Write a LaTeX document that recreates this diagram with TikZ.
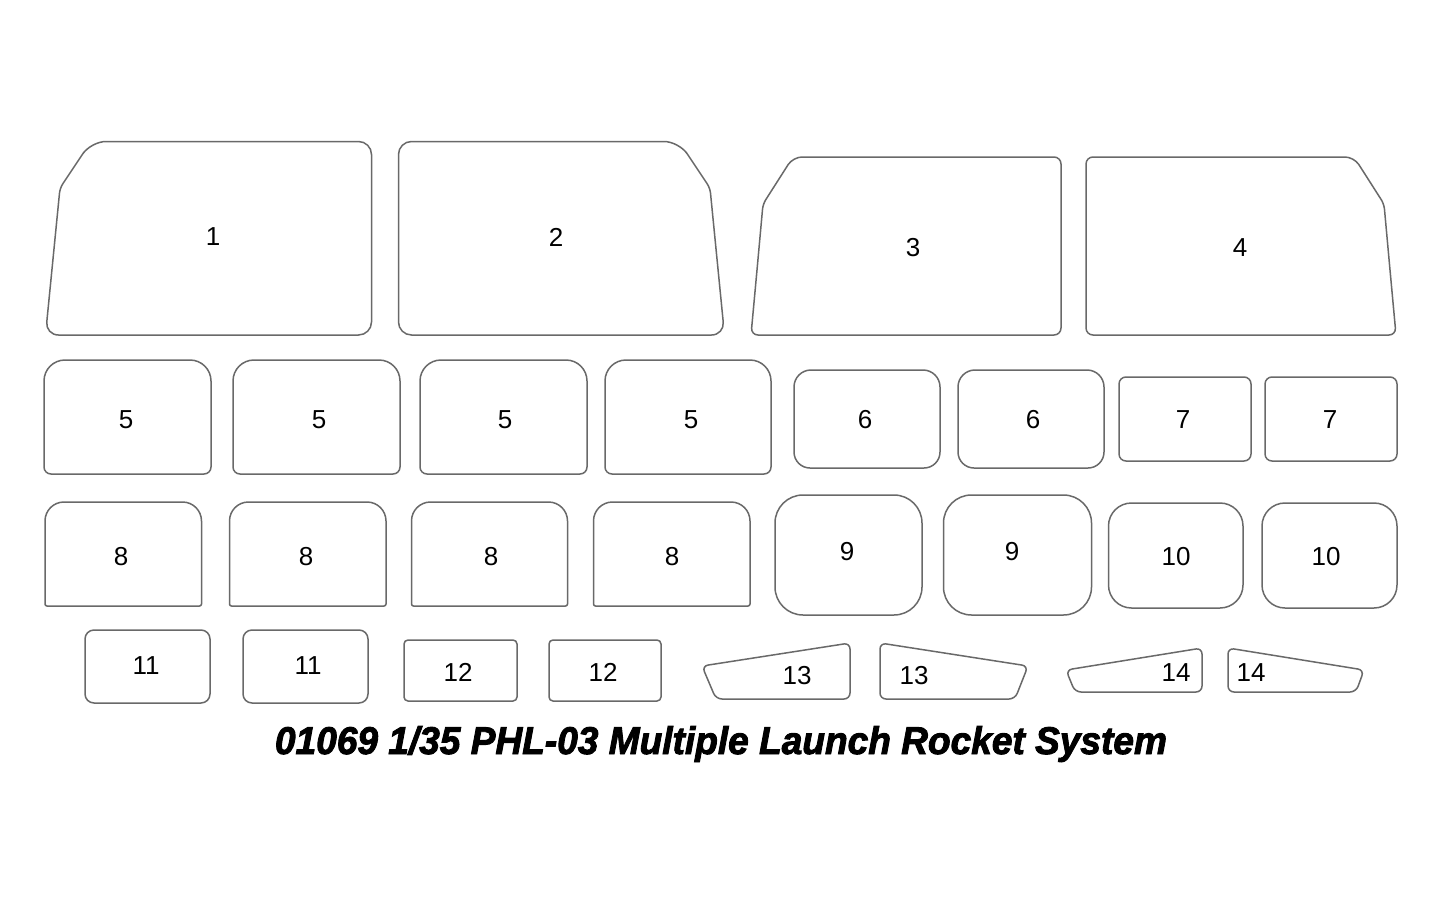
\documentclass[tikz,border=0pt]{standalone}
\usepackage{fontspec}
\usepackage{graphicx}
\setmainfont{Liberation Sans}
\newfontfamily\titlefont{Liberation Sans}[BoldItalicFeatures={FakeBold=2.4}]
\definecolor{partgray}{RGB}{105,105,105}
\tikzset{
  partline/.style={draw=partgray, line width=1.5pt, line join=round},
  lbl/.style={inner sep=0pt, font=\fontsize{26}{28}\selectfont, text=black}
}
\newcommand\pbox[6]{%
  \draw[partline] ({#1},{(#2+#4)/2}) [rounded corners=#5pt] -- (#1,#2) -- (#3,#2) -- ({#3},{(#2+#4)/2}) [rounded corners=#6pt] -- (#3,#4) -- (#1,#4) -- cycle;}
\begin{document}
\begin{tikzpicture}[x=1pt,y=-1pt]
\fill[white] (0,0) rectangle (1440,900);
\useasboundingbox (0,0) rectangle (1440,900);

% Row 1
\draw[partline] (230,141.5) [rounded corners=15pt] -- (91,141.5) -- (75.5,164.75) [rounded corners=5pt] -- (60,188) -- (52.75,261.5) [rounded corners=13pt] -- (45.5,335) -- (371.5,335) -- (371.5,141.5) -- cycle;
\draw[partline] (540,141.5) [rounded corners=15pt] -- (679,141.5) -- (694.5,164.75) [rounded corners=5pt] -- (710,188) -- (717.25,261.5) [rounded corners=13pt] -- (724.5,335) -- (398.5,335) -- (398.5,141.5) -- cycle;
\draw[partline] (906,157) [rounded corners=9pt] -- (793,157) -- (778,180.5) [rounded corners=5pt] -- (763,204) -- (757,270) [rounded corners=7pt] -- (751,335) -- (1061,335) -- (1061,157) -- cycle;
\draw[partline] (1241,157) [rounded corners=9pt] -- (1354,157) -- (1369,180.5) [rounded corners=5pt] -- (1384,204) -- (1390,270) [rounded corners=7pt] -- (1396,335) -- (1086,335) -- (1086,157) -- cycle;
\node[lbl] (n1) at (213,237) {1};
\node[lbl] (n2) at (556,237) {2};
\node[lbl] (n3) at (913,248) {3};
\node[lbl] (n4) at (1240,248) {4};

% Row 2
\pbox{44}{360}{211}{474}{21}{7}
\pbox{233}{360}{400}{474}{21}{7}
\pbox{420}{360}{587}{474}{21}{7}
\pbox{605}{360}{771}{474}{21}{7}
\pbox{794}{370}{940}{468}{17}{16}
\pbox{958}{370}{1104}{468}{17}{16}
\pbox{1119}{377}{1251}{461}{7}{7}
\pbox{1265}{377}{1397}{461}{7}{7}
\node[lbl] (n5a) at (126,420) {5};
\node[lbl] (n5b) at (319,420) {5};
\node[lbl] (n5c) at (505,420) {5};
\node[lbl] (n5d) at (691,420) {5};
\node[lbl] (n6a) at (865,420) {6};
\node[lbl] (n6b) at (1033,420) {6};
\node[lbl] (n7a) at (1183,420) {7};
\node[lbl] (n7b) at (1330,420) {7};

% Row 3
\pbox{45}{502}{201.5}{606}{19}{2}
\pbox{229.5}{502}{386}{606}{19}{2}
\pbox{411.5}{502}{567.5}{606}{19}{2}
\pbox{593.5}{502}{750}{606}{19}{2}
\pbox{775}{495}{922}{615}{28}{28}
\pbox{943.5}{495}{1091.5}{615}{28}{28}
\pbox{1108.5}{503}{1243}{608}{23}{23}
\pbox{1262}{503}{1397}{608}{23}{23}
\node[lbl] (n8a) at (121,557) {8};
\node[lbl] (n8b) at (306,557) {8};
\node[lbl] (n8c) at (491,557) {8};
\node[lbl] (n8d) at (672,557) {8};
\node[lbl] (n9a) at (847,552) {9};
\node[lbl] (n9b) at (1012,552) {9};
\node[lbl] (n10a) at (1176,557) {10};
\node[lbl] (n10b) at (1326,557) {10};

% Row 4
\pbox{85}{630}{210}{703}{9}{9}
\pbox{243}{630}{368}{703}{9}{9}
\pbox{404}{640}{517}{701}{4}{4}
\pbox{549}{640}{661}{701}{4}{4}
\draw[partline, rounded corners=6pt] (783,699) -- (716,699) -- (702,666) -- (850,643) -- (850,699) -- cycle;
\draw[partline, rounded corners=6pt] (950,699) -- (880,699) -- (880,643) -- (1028,666) -- (1015,699) -- cycle;
\draw[partline, rounded corners=6pt] (1140,692) -- (1075,692) -- (1066,670) -- (1202,648) -- (1202,692) -- cycle;
\draw[partline, rounded corners=6pt] (1290,692) -- (1228,692) -- (1228,648) -- (1364,670) -- (1356,692) -- cycle;
\node[lbl] (n11a) at (146,666) {11};
\node[lbl] (n11b) at (308,666) {11};
\node[lbl] (n12a) at (458,672) {12};
\node[lbl] (n12b) at (603,672) {12};
\node[lbl] (n13a) at (797,676) {13};
\node[lbl] (n13b) at (914,676) {13};
\node[lbl] (n14a) at (1176,673) {14};
\node[lbl] (n14b) at (1251,673) {14};

% Title
\node[inner sep=0pt, anchor=base] (title) at (721,754)
  {\resizebox{892pt}{28pt}{\titlefont\bfseries\itshape 01069 1/35 PHL-03 Multiple Launch Rocket System}};
\end{tikzpicture}
\end{document}
